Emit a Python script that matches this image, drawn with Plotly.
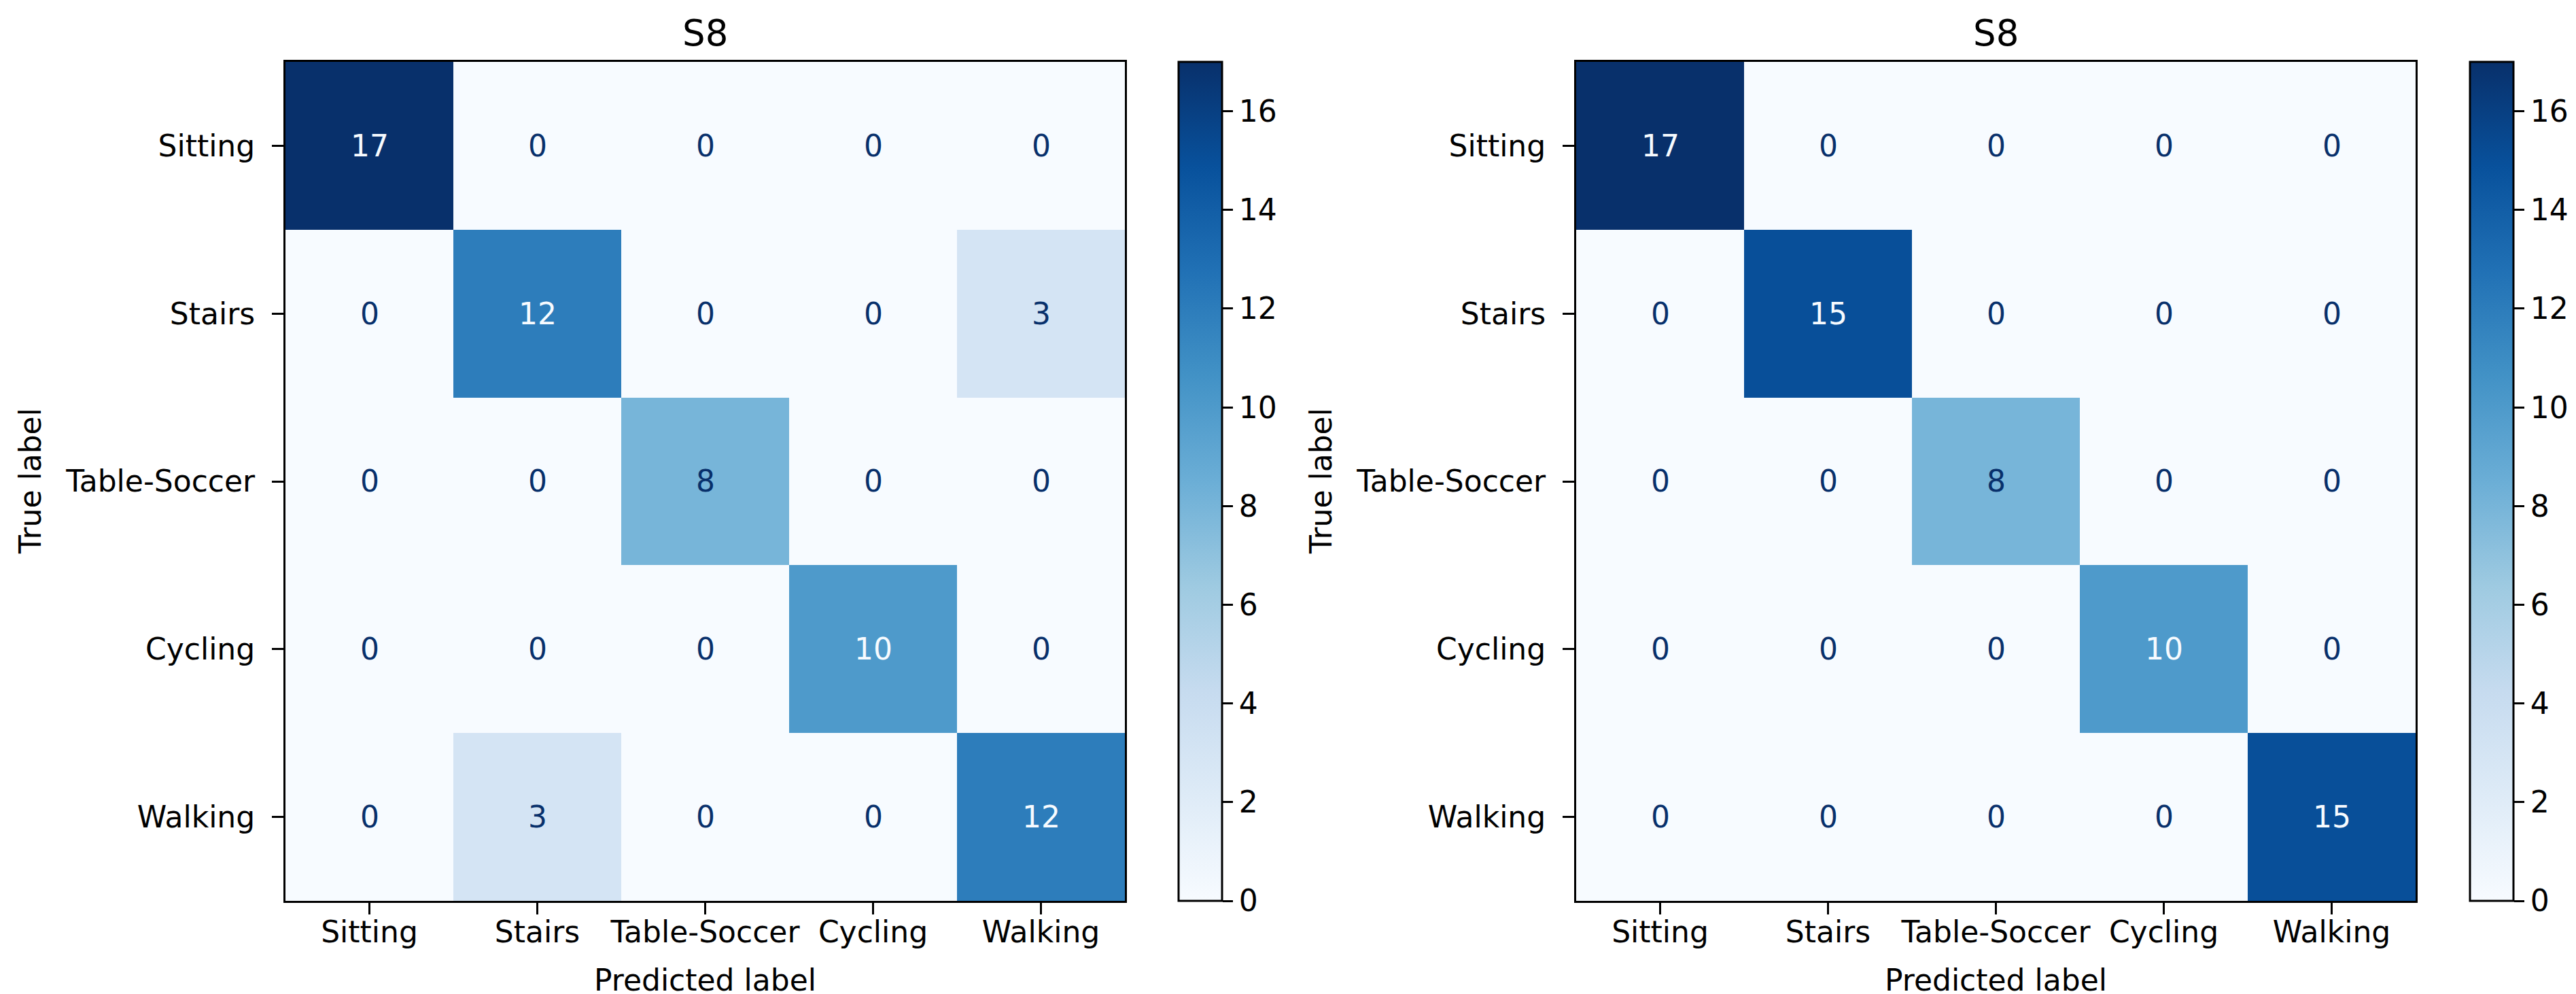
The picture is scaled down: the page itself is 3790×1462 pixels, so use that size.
import plotly.graph_objects as go
import plotly.express as px

labels = ['Sitting', 'Stairs', 'Table-Soccer', 'Cycling', 'Walking']

cm_left = [[17, 0, 0, 0, 0],
           [0, 12, 0, 0, 3],
           [0, 0, 8, 0, 0],
           [0, 0, 0, 10, 0],
           [0, 3, 0, 0, 12]]

cm_right = [[17, 0, 0, 0, 0],
            [0, 15, 0, 0, 0],
            [0, 0, 8, 0, 0],
            [0, 0, 0, 10, 0],
            [0, 0, 0, 0, 15]]

titles = ['S8', 'S8']
cbar_ticks = [0, 2, 4, 6, 8, 10, 12, 14, 16]

W, H = 3790, 1462
FONT = 'DejaVu Sans'
blues = px.colors.sequential.Blues
dark = 'rgb(8,48,107)'
light = 'rgb(247,251,255)'

# pixel boxes of the two heatmaps (left, right, top, bottom)
boxes = [(412, 1647, 83, 1317), (2311, 3546, 83, 1317)]
cbar_x = [1726, 3626]

fig = go.Figure()
annotations = []

for i, (cm, title) in enumerate(zip([cm_left, cm_right], titles)):
    l, r, t, b = boxes[i]
    xa = 'x' if i == 0 else 'x2'
    ya = 'y' if i == 0 else 'y2'
    fig.add_trace(go.Heatmap(
        z=cm, x=labels, y=labels, xaxis=xa, yaxis=ya,
        colorscale=blues, zmin=0, zmax=17, hoverinfo='skip',
        colorbar=dict(
            x=cbar_x[i] / W, xanchor='left', xpad=0, ypad=0,
            y=(H - b) / H, yanchor='bottom',
            len=b - t, lenmode='pixels', thickness=64,
            outlinewidth=3, outlinecolor='black',
            tickvals=cbar_ticks, ticks='outside', ticklen=15, tickwidth=3,
            tickcolor='black', tickfont=dict(size=44, color='black', family=FONT),
        ),
    ))

    zmax = max(max(row) for row in cm)
    zmin = min(min(row) for row in cm)
    thresh = (zmax + zmin) / 2
    for ri, row in enumerate(cm):
        for ci, v in enumerate(row):
            annotations.append(dict(
                x=labels[ci], y=labels[ri], xref=xa, yref=ya, text=str(v),
                showarrow=False,
                font=dict(size=44, family=FONT, color=light if v > thresh else dark),
            ))

    axkw = dict(showline=True, linecolor='black', linewidth=3, mirror=True,
                ticks='outside', ticklen=17, tickwidth=3, tickcolor='black',
                showgrid=False, zeroline=False,
                tickfont=dict(size=44, color='black', family=FONT))
    xkey = 'xaxis' if i == 0 else 'xaxis2'
    ykey = 'yaxis' if i == 0 else 'yaxis2'
    fig.update_layout({
        xkey: dict(domain=[l / W, r / W], anchor=ya, ticklabelstandoff=-12, **axkw),
        ykey: dict(domain=[(H - b) / H, (H - t) / H], anchor=xa, autorange='reversed',
                   ticklabelstandoff=16, **axkw),
    })

    cx = (l + r) / 2
    annotations.append(dict(x=cx / W, y=1 - 41 / H, xref='paper', yref='paper',
                            text=title, showarrow=False, xanchor='center', yanchor='middle',
                            font=dict(size=53, family=FONT, color='black')))
    annotations.append(dict(x=cx / W, y=1 - 1433 / H, xref='paper', yref='paper',
                            text='Predicted label', showarrow=False, xanchor='center',
                            yanchor='middle', font=dict(size=44, family=FONT, color='black')))
    tx = 36 if i == 0 else 1935
    annotations.append(dict(x=tx / W, y=1 - ((t + b) / 2) / H, xref='paper', yref='paper',
                            text='True label', showarrow=False, textangle=-90,
                            xanchor='center', yanchor='middle',
                            font=dict(size=44, family=FONT, color='black')))

fig.update_layout(
    width=W, height=H, margin=dict(l=0, r=0, t=0, b=0),
    paper_bgcolor='white', plot_bgcolor='white',
    font=dict(family=FONT, color='black'),
    annotations=annotations,
)

fig.write_html("out.html")
